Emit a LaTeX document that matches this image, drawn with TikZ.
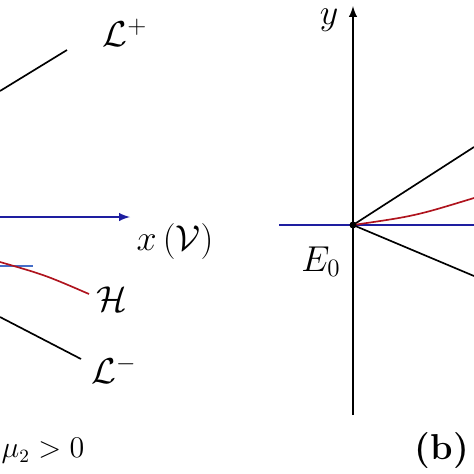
\documentclass[tikz,border=0pt]{standalone}
\usepackage{amsmath}

\definecolor{axblue}{RGB}{30,30,160}
\definecolor{lightblue}{RGB}{70,110,200}
\definecolor{curvered}{RGB}{175,20,30}

\begin{document}
\begin{tikzpicture}[x=0.016878cm, y=-0.016878cm, font=\LARGE]
    \useasboundingbox (0,0) rectangle (474,474);

    % বাম অংশ (a) এর কাটা অংশ
    \coordinate (Lp0) at (0,91);
    \coordinate (Lp1) at (67,50);
    \coordinate (Lm0) at (0,317);
    \coordinate (Lm1) at (81,359);
    \coordinate (X0) at (0,217);
    \coordinate (X1) at (130,217);
    \coordinate (B0) at (0,266);
    \coordinate (B1) at (33,266);
    \coordinate (H0) at (0,262);
    \coordinate (H1) at (89,294);

    \draw[thick] (Lp0) -- (Lp1); % L+
    \draw[thick] (Lm0) -- (Lm1); % L-
    \draw[thick, axblue, -latex] (X0) -- (X1); % x অক্ষ
    \draw[thick, lightblue] (B0) -- (B1);
    \draw[thick, curvered] (H0) .. controls (45,275) .. (H1); % H

    % লেবেল প্রদান
    \node (lplus) at (125,33) {$\mathcal{L}^{+}$};
    \node (lminus) at (114,370) {$\mathcal{L}^{-}$};
    \node (xlab) at (175,241) {$x\,(\mathcal{V})$};
    \node (hlab) at (112,299) {$\mathcal{H}$};
    \node[font=\fontsize{13.5}{16}\selectfont] (mu) at (43,451) {$\mu_2>0$};

    % ডান অংশ (b)
    \coordinate (E) at (353,225);
    \coordinate (Ybot) at (353,415);
    \coordinate (Ytop) at (353,6);
    \coordinate (Bl) at (279,225);
    \coordinate (Br) at (474,225);
    \coordinate (Up) at (474,147);
    \coordinate (Dn) at (474,276);
    \coordinate (Rd) at (474,198);

    \draw[thick, -latex] (Ybot) -- (Ytop); % y অক্ষ
    \draw[thick, axblue] (Bl) -- (Br);
    \draw[thick] (E) -- (Up);
    \draw[thick] (E) -- (Dn);
    \draw[thick, curvered] (E) .. controls (415,216) .. (Rd);
    \fill (E) circle (3.5); % E0 বিন্দু

    \node[inner sep=0pt] (ylab) at (329,20) {$y$};
    \node (elab) at (321,262) {$E_0$};
    \node[font=\LARGE\bfseries] (blab) at (442,451) {(b)};
\end{tikzpicture}
\end{document}
